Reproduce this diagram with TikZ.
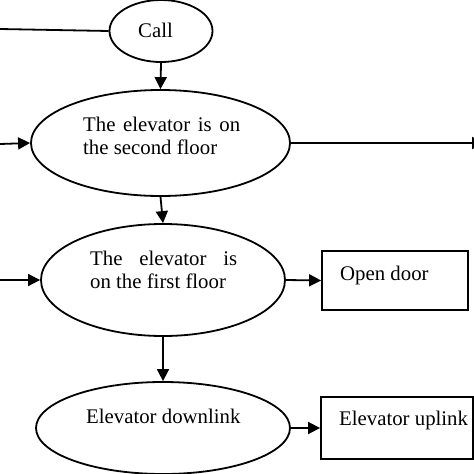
\documentclass[tikz,border=0pt]{standalone}
\usepackage{fontspec}
\setmainfont{Liberation Serif}
\usetikzlibrary{shapes.geometric,arrows.meta}
\begin{document}
\begin{tikzpicture}[x=1pt,y=-1pt,
  oval/.style={draw,ellipse,line width=1.8pt,inner sep=0pt},
  box/.style={draw,rectangle,line width=1.8pt,inner sep=0pt},
  lbl/.style={inner sep=0pt,anchor=west,font=\fontsize{20.8}{23}\selectfont},
  arr/.style={line width=1.8pt,-{Triangle[length=12pt,width=12pt]}},
  ln/.style={line width=1.8pt}]
\useasboundingbox (0,0) rectangle (474,474);
\clip (0,0) rectangle (474,474);
% nodes
\node[oval,minimum width=103pt,minimum height=62pt] (call) at (161,31) {};
\node[lbl] (calltxt) at (138,30) {Call};
\node[oval,minimum width=259pt,minimum height=106pt] (e2) at (160.5,143) {};
\node[lbl] (e2txt) at (83,138.5) {\begin{tabular}{@{}l@{}}\makebox[157pt][s]{The elevator is on}\\the second floor\end{tabular}};
\node[oval,minimum width=244pt,minimum height=112pt] (e3) at (163,280) {};
\node[lbl] (e3txt) at (90,272.5) {\begin{tabular}{@{}l@{}}\makebox[147pt][s]{The elevator is}\\on the first floor\end{tabular}};
\node[box,minimum width=146pt,minimum height=59pt] (door) at (395,280.5) {};
\node[lbl] (doortxt) at (340,275) {Open door};
\node[oval,minimum width=254pt,minimum height=92pt] (e4) at (163,428) {};
\node[lbl] (e4txt) at (86,416) {Elevator downlink};
\node[box,minimum width=152pt,minimum height=62pt] (up) at (397,428) {};
\node[lbl] (uptxt) at (339,420) {Elevator uplink};
% free ends
\coordinate (lin) at (0,29);
\coordinate (in2) at (0,144);
\coordinate (out2) at (484,143);
\coordinate (in3) at (0,280);
% connectors
\draw[ln] (lin) -- (call.west);
\draw[arr] (call.south) -- (e2.north);
\draw[arr] (in2) -- (e2.west);
\draw[arr] (e2.east) -- (out2);
\draw[arr] (e2.south) -- (e3.north);
\draw[arr] (in3) -- (e3.west);
\draw[arr] (e3.east) -- (door.west);
\draw[arr] (e3.south) -- (e4.north);
\draw[arr] (e4.east) -- (up.west);
\end{tikzpicture}
\end{document}
